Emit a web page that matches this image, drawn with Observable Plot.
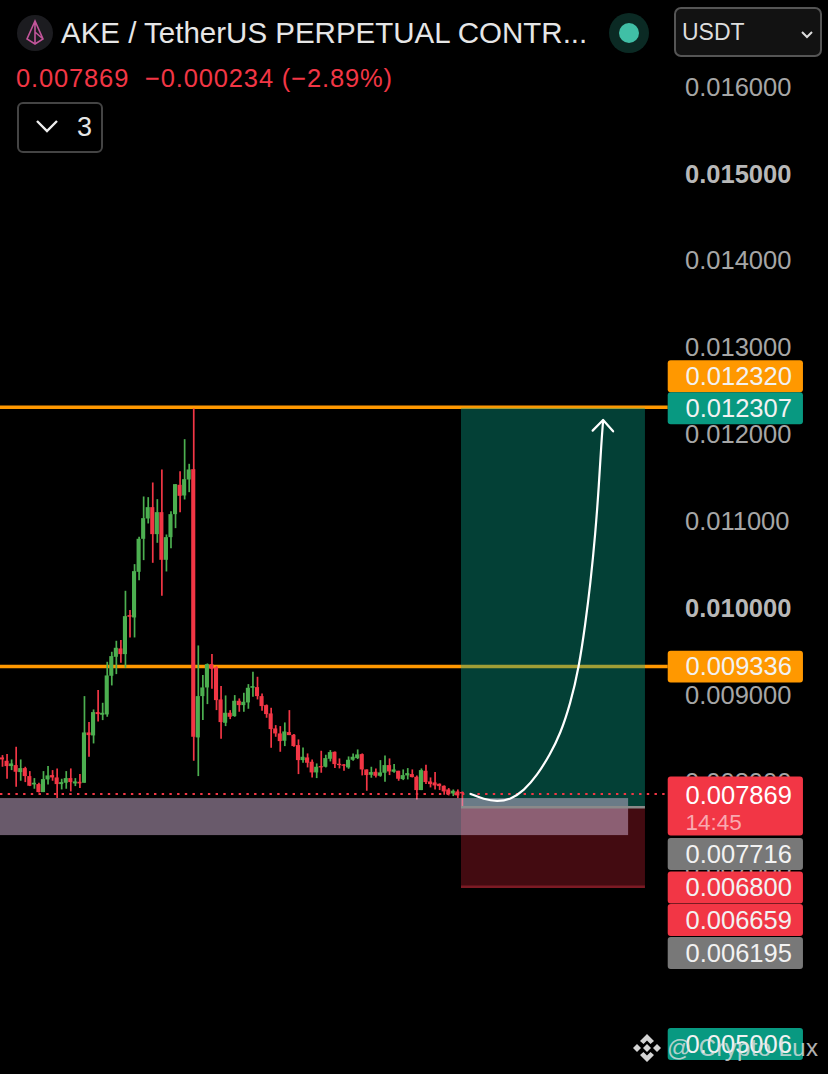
<!DOCTYPE html>
<html><head><meta charset="utf-8">
<script src="https://cdn.jsdelivr.net/npm/d3@7"></script>
<script src="https://cdn.jsdelivr.net/npm/@observablehq/plot@0.6"></script>
<style>
html,body{margin:0;padding:0;background:#000;width:828px;height:1074px;overflow:hidden}
#root{position:relative;width:828px;height:1074px;font-family:"Liberation Sans",sans-serif}
#root svg.plot{position:absolute;left:0;top:0;background:#000}
.h{position:absolute;white-space:nowrap}
</style></head><body><div id="root">
<svg class="h" style="left:14px;top:12px;z-index:2" width="42" height="42" viewBox="0 0 42 42"><circle cx="21" cy="21" r="18" fill="#1c1c20"/><path d="M21 9 L13 27 L21 32 L29 27 Z M21 9 L21 32 M21 20 L29 27" fill="none" stroke="#c2559a" stroke-width="1.6"/></svg>
<div class="h" id="title" style="left:61px;top:14px;font-size:29.5px;line-height:38px;color:#e6e6e6;z-index:2">AKE / TetherUS PERPETUAL CONTR...</div>
<svg class="h" style="left:604px;top:8px;z-index:2" width="50" height="50"><circle cx="25" cy="25" r="20" fill="#0b2a24"/><circle cx="25" cy="25" r="10" fill="#40bfa6"/></svg>
<div class="h" style="left:674px;top:7px;width:144px;height:46px;border:2px solid #555;border-radius:7px;background:#121212;z-index:2"></div>
<div class="h" style="left:682px;top:18px;font-size:23px;line-height:28px;color:#ddd;z-index:3">USDT</div>
<svg class="h" style="left:800px;top:30px;z-index:3" width="14" height="10"><path d="M2 2 L7 7 L12 2" fill="none" stroke="#ddd" stroke-width="2"/></svg>
<div class="h" style="left:16px;top:63px;font-size:25.5px;line-height:30px;letter-spacing:.85px;color:#f23645;z-index:2">0.007869&nbsp; −0.000234 (−2.89%)</div>
<div class="h" style="left:17px;top:102px;width:82px;height:47px;border:2px solid #444;border-radius:6px;z-index:2"></div>
<svg class="h" style="left:35px;top:118px;z-index:3" width="26" height="18"><path d="M2 3 L12 13 L22 3" fill="none" stroke="#eee" stroke-width="2.4"/></svg>
<div class="h" style="left:77px;top:112px;font-size:27px;line-height:30px;color:#e6e6e6;z-index:3">3</div>
<svg class="h" style="left:632px;top:1033px;z-index:5" width="30" height="30" viewBox="0 0 30 30"><g fill="#d4d4d4"><path d="M15 1 L22 8 L18.5 11 L15 7.5 L11.5 11 L8 8 Z"/><path d="M15 29 L8 22 L11.5 19 L15 22.5 L18.5 19 L22 22 Z"/><path d="M15 11 L19 15 L15 19 L11 15 Z"/><path d="M5 11 L9 15 L5 19 L1 15 Z"/><path d="M25 11 L29 15 L25 19 L21 15 Z"/></g></svg>
<div class="h" style="left:667px;top:1032px;font-size:24px;line-height:32px;color:rgba(225,225,225,.8);letter-spacing:.35px;z-index:5">@ Crypto Lux</div>
</div>
<script>
// Prices are in millionths of USDT.
const scale = 1e-6;
const wickTopZ1 = [1065,1062,1078,1040,1078,1100,1113,1134,1148,1113,1098,1110,1105,1136,1113,1105,1134,1122,888,966,928,870,908,785,755,722,720,572,630,492,410,289,291,247,297,208,403,333,252,213,117,191,25,736,825,790,762,798,858];
const wickBotZ1 = [1100,1136,1110,1160,1142,1146,1158,1166,1177,1176,1153,1142,1194,1168,1166,1174,1158,1164,1148,1070,1030,964,960,950,856,822,788,803,712,712,540,480,370,488,428,587,514,444,384,336,298,276,1082,1128,960,912,866,930,1016];
const bodyTopZ1 = [1072,1082,1090,1095,1104,1104,1128,1148,1152,1137,1126,1125,1132,1146,1134,1134,1144,1145,997,997,936,936,938,826,768,743,745,648,645,513,416,354,321,321,336,336,411,342,252,254,237,208,207,888,862,792,792,802,898];
const bodyBotZ1 = [1078,1098,1098,1115,1116,1128,1157,1153,1176,1176,1138,1132,1152,1152,1148,1146,1150,1150,1148,1005,1006,942,944,943,827,770,762,762,650,652,515,416,355,402,402,479,479,411,342,287,286,238,1010,1012,888,862,806,900,966];
const upZ1 = [0,0,1,0,1,0,0,1,0,1,1,0,0,1,1,0,1,0,1,0,1,0,1,1,1,1,0,1,0,1,1,1,1,0,1,0,1,1,1,0,1,1,0,1,1,1,0,0,0];
const wickTopZ2 = [136,180,135,145,128,102,65,80,130,163,173,225,228,217,180,252,268,292,310,328,340,302,314,300,304,325,342,319,310,298,310,358,350,355,330,316,325,342,362,358,354,358,376,355,344,382,366,400,406,414,418,418,424];
const wickBotZ2 = [228,207,200,185,185,176,140,148,182,203,293,260,305,288,255,290,372,338,352,382,384,368,352,334,354,355,362,356,332,327,376,422,383,382,380,395,375,368,392,390,388,382,448,420,402,412,418,420,434,436,438,444,472];
const bodyTopZ2 = [188,188,152,152,155,113,108,111,138,165,190,235,250,244,246,254,285,320,322,335,350,348,324,306,305,341,343,329,320,313,312,358,366,365,367,345,345,358,362,375,369,372,380,360,362,394,397,401,407,418,422,424,426];
const bodyBotZ2 = [218,200,198,165,165,157,113,138,168,192,237,250,273,272,255,288,330,330,338,367,367,352,350,326,342,345,347,352,329,324,358,375,374,377,377,368,364,365,386,387,376,381,420,420,396,402,406,408,424,432,430,436,430];
const upZ2 = [1,0,1,0,1,1,1,0,0,0,0,0,0,1,0,0,0,1,0,0,1,0,1,1,0,0,0,1,1,1,0,0,1,0,1,1,0,1,0,1,1,0,0,1,0,0,0,0,0,0,1,0,0];

const fromZ1 = z => 12395 - 3.836 * z;
const fromZ2 = z => 9518 - 3.836 * z;
const candles = [];
wickTopZ1.forEach((_, i) => candles.push({i, hi: fromZ1(wickTopZ1[i]), lo: fromZ1(wickBotZ1[i]), top: fromZ1(bodyTopZ1[i]), bot: fromZ1(bodyBotZ1[i]), up: upZ1[i]}));
wickTopZ2.forEach((_, k) => candles.push({i: 49 + k, hi: fromZ2(wickTopZ2[k]), lo: fromZ2(wickBotZ2[k]), top: fromZ2(bodyTopZ2[k]), bot: fromZ2(bodyBotZ2[k]), up: upZ2[k]}));
candles.forEach(c => { if (c.top - c.bot < 12) c.bot = c.top - 12; });

const tickValues = [16000, 14000, 13000, 12000, 11000, 9000, 8000, 7000];
const boldTicks = [15000, 10000];
const resistance = [12320, 9336];
const lastPrice = 7869;
const stopLine = 7716, targetTop = 12307, stopBottom = 6800;
const supportZone = {top: 7815, bottom: 7389, x2: 137.5};
const zoneX = [100.8, 141.2];
const labelText = ["0.012320","0.012307","0.009336","0.007716","0.006800","0.006659","0.006195","0.005006"];
const labelPos  = [12671,12303,9328,7170,6785,6411,6031,4984];
const labelFill = ["#ff9800","#089981","#ff9800","#787878","#f23645","#f23645","#787878","#089981"];
const labels = labelText.map((t,k)=>({t,y:labelPos[k],f:labelFill[k]}));
const arrowX = [102.8,105.7,108.6,111.55,114.5,117.4,120.3,122.5,124.7,126.6,128,129.1,130.2,131,131.5,131.9];
const arrowP = [7868,7807,7780,7803,7907,8080,8329,8559,8904,9326,9825,10285,10861,11436,11896,12165];
const arrow = arrowX.map((x,k)=>({x,p:arrowP[k]}));
const arrowHead = [{x:129.6,p:12050},{x:131.9,p:12172},{x:134.1,p:12042}];
const fmt = d => (d*scale).toFixed(6);
const RED="#f23645", GREEN="#4caf50", TXT="#a6a6a6";
const lx = 146.2, rx = 175.9, tx = 150;
const FS = 25.5;

const plot = Plot.plot({
  width:828, height:1074, margin:0,
  style:{background:"#000", fontFamily:"'Liberation Sans',sans-serif"},
  x:{domain:[-0.44,181.4], range:[0,828], axis:null},
  y:{domain:[4639,17001], range:[1074,0], axis:null},
  marks:[
    Plot.axisY(tickValues,{anchor:"right",tickSize:0,tickPadding:-143.5,tickFormat:fmt,fontSize:FS,fill:TXT,label:null}),
    Plot.axisY(boldTicks,{anchor:"right",tickSize:0,tickPadding:-143.5,tickFormat:fmt,fontSize:FS,fontWeight:"bold",fill:"#b8b8b8",label:null}),
    Plot.ruleY(resistance,{x1:-0.44,x2:lx,stroke:"#ff9800",strokeWidth:3.6}),
    Plot.rectY([{}],{x1:zoneX[0],x2:zoneX[1],y1:stopLine,y2:targetTop,fill:"#07a88f",fillOpacity:.38}),
    Plot.rectY([{}],{x1:zoneX[0],x2:zoneX[1],y1:stopBottom,y2:stopLine,fill:"#b01c2c",fillOpacity:.38}),
    Plot.ruleY([stopBottom],{x1:zoneX[0],x2:zoneX[1],stroke:"#7c1a24",strokeWidth:2.5}),
    Plot.ruleX(candles,{x:"i",y1:"lo",y2:"hi",stroke:d=>d.up?GREEN:RED,strokeWidth:1.7}),
    Plot.rect(candles,{x1:d=>d.i-.45,x2:d=>d.i+.45,y1:"bot",y2:"top",fill:d=>d.up?GREEN:RED}),
    Plot.ruleY([lastPrice],{x1:-0.44,x2:lx,stroke:RED,strokeWidth:2,strokeDasharray:"2.4,5.3"}),
    Plot.rectY([{}],{x1:-0.44,x2:supportZone.x2,y1:supportZone.bottom,y2:supportZone.top,fill:"#dcbce0",fillOpacity:.48}),
    Plot.ruleY([stopLine],{x1:zoneX[0],x2:zoneX[1],stroke:"#8a8a8a",strokeWidth:2.5}),
    Plot.line(arrow,{x:"x",y:"p",curve:"basis",stroke:"#fff",strokeWidth:2.2}),
    Plot.line(arrowHead,{x:"x",y:"p",stroke:"#fff",strokeWidth:2.2}),
    Plot.rect(labels,{x1:lx,x2:rx,y1:d=>d.y-184,y2:d=>d.y+184,fill:"f",rx:3}),
    Plot.rect([{}],{x1:lx,x2:rx,y1:7385,y2:8063,fill:RED,rx:3}),
    Plot.text(labels,{x:tx,y:"y",text:"t",textAnchor:"start",fontSize:FS,fill:"#f2f2f2"}),
    Plot.text(["0.007869"],{x:tx,y:()=>7849,text:d=>d,textAnchor:"start",fontSize:FS,fill:"#fff"}),
    Plot.text(["14:45"],{x:tx,y:()=>7539,text:d=>d,textAnchor:"start",fontSize:22.5,fill:"#f9a9b0"})
  ]
});
document.getElementById("root").appendChild(plot);
</script></body></html>
